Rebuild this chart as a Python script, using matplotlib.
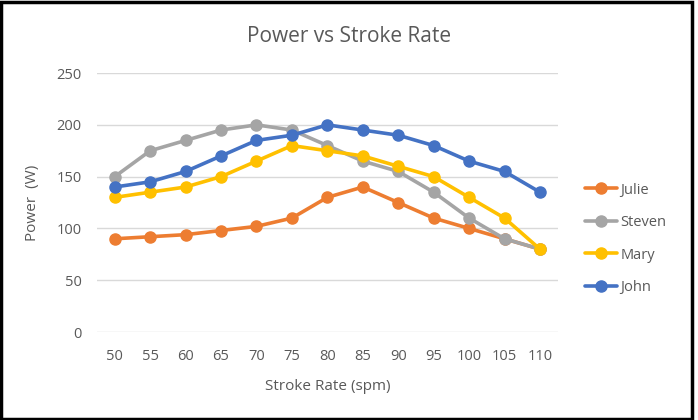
import numpy as np
import matplotlib.pyplot as plt
from matplotlib.patches import Rectangle

stroke_rate = [50, 55, 60, 65, 70, 75, 80, 85, 90, 95, 100, 105, 110]
julie  = [90, 92, 94, 98, 102, 110, 130, 140, 125, 110, 100, 90, 80]
steven = [150, 175, 185, 195, 200, 195, 180, 165, 155, 135, 110, 90, 80]
mary   = [130, 135, 140, 150, 165, 180, 175, 170, 160, 150, 130, 110, 80]
john   = [140, 145, 155, 170, 185, 190, 200, 195, 190, 180, 165, 155, 135]

series = [("Julie", julie, "#ED7D31"),
          ("Steven", steven, "#A5A5A5"),
          ("Mary", mary, "#FFC000"),
          ("John", john, "#4472C4")]

plt.rcParams['font.family'] = ['Open Sans', 'DejaVu Sans']
txt = "#595959"

fig = plt.figure(figsize=(6.98, 4.2), dpi=100)
ax = fig.add_axes([0.139, 0.2095, 0.66, 0.6165])

x = np.arange(len(stroke_rate))
for name, vals, col in series:
    ax.plot(x, vals, color=col, lw=2.6, marker='o', ms=8, label=name,
            solid_capstyle='round')

ax.set_xlim(-0.5, len(stroke_rate) - 0.5)
ax.set_ylim(0, 250)
ax.set_yticks(range(0, 251, 50))
ax.set_xticks(x)
ax.set_xticklabels([str(s) for s in stroke_rate])
ax.grid(axis='y', color="#D9D9D9", lw=1)
ax.set_axisbelow(True)
for s in ax.spines.values():
    s.set_visible(False)
ax.tick_params(length=0, colors=txt, labelsize=10.5)
ax.tick_params(axis='y', pad=11)
ax.tick_params(axis='x', pad=12)

ax.set_xlabel("Stroke Rate (spm)", color=txt, fontsize=11, labelpad=11)
ax.set_ylabel("Power  (W)", color=txt, fontsize=11, labelpad=12)
fig.text(0.5, 0.912, "Power vs Stroke Rate", ha='center', va='center',
         color=txt, fontsize=15)

ax.legend(loc='center left', bbox_to_anchor=(1.03, 0.36), frameon=False,
          labelcolor=txt, fontsize=10.5, handlelength=2.2, labelspacing=1.2,
          handletextpad=0.25)

fig.patches.append(Rectangle((0.002, 0.003), 0.99, 0.993, transform=fig.transFigure,
                             fill=False, edgecolor='black', lw=2.5))

fig.savefig("out.png", dpi=100)
